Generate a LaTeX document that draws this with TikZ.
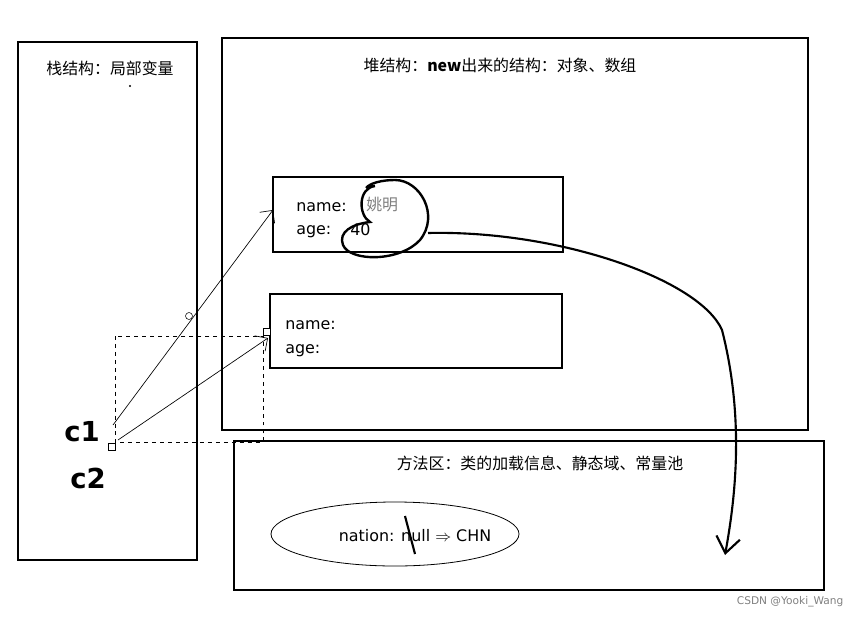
\documentclass[tikz,border=0pt]{standalone}
\usepackage{fontspec}
\newfontfamily\cjk{Noto Sans CJK SC}
\setmainfont{DejaVu Sans}
\usetikzlibrary{positioning,arrows.meta}
\tikzset{
  area/.style={draw,line width=.8pt},
  title/.style={font=\cjk\large},
  field/.style={font=\large,anchor=west,inner sep=0},
  refarrow/.style={-{Straight Barb[length=7pt]},line width=.5pt},
  big/.style={font=\huge\bfseries}
}
\begin{document}
\begin{tikzpicture}[x=0.0265cm,y=-0.0265cm]
\useasboundingbox (0,0) rectangle (861,621);
\fill[white] (0,0) rectangle (861,621);
% stack
\draw[area] (18,42) rectangle (197,560);
\node[title] (stack) at (110,68) {栈结构：局部变量};
\fill (130,86) circle (1.2);
% heap
\draw[area] (222,38) rectangle (808,430);
\node[title] (heap) at (500,65) {堆结构：\textbf{new}出来的结构：对象、数组};
\draw[area] (273,177) rectangle (563,252);
\coordinate (obj1) at (273,210);
\node[field] (name1) at (296,207) {name:};
\node[field,font=\cjk\large,text=gray] (yao) at (366,205) {姚明};
\node[field] (age1) at (296,232) {age:};
\node[field] (forty) at (350,230) {40};
\draw[area] (270,294) rectangle (562,368);
\coordinate (obj2) at (268,338);
\node[field] (name2) at (285,325) {name:};
\node[field] (age2) at (285,351) {age:};
% method area
\draw[area] (234,441) rectangle (824,590);
\node[title] (method) at (540,463) {方法区：类的加载信息、静态域、常量池};
\draw[line width=.6pt] (395,534) ellipse (124 and 32);
\node[font=\large] (nation) at (415,536) {nation: null $\Rightarrow$ CHN};
\draw[line width=1.6pt] (405,516) -- (415,554);
% references
\node[big] (c1) at (82,432) {c1};
\node[big] (c2) at (88,478) {c2};
\draw[dashed] (115,336) rectangle (263,442);
\coordinate (c1p) at (113,425);
\draw[refarrow] (c1p) -- (obj1);
\draw[fill=white] (189,316) circle (3.5);
\draw[fill=white] (108,443) rectangle (115,450);
\draw[fill=white] (263,328) rectangle (270,335);
\coordinate (c2p) at (118,440);
\draw[refarrow] (c2p) -- (obj2);
% scribble and curve
\draw[line width=1.8pt] (375,186) .. controls (358,188) and (358,215) .. (370,222)
  .. controls (352,224) and (338,232) .. (343,245)
  .. controls (350,262) and (400,262) .. (420,240)
  .. controls (440,215) and (420,180) .. (395,180)
  .. controls (382,180) and (370,183) .. (366,188);
\draw[line width=1.6pt,-{Straight Barb[length=12pt,width=18pt]}] (428,233) .. controls (560,230) and (700,280) .. (722,330)
  .. controls (745,420) and (735,500) .. (725,555);
\node[font=\footnotesize,text=gray,anchor=south east] (csdn) at (848,612) {CSDN @Yooki\_Wang};
\end{tikzpicture}
\end{document}
